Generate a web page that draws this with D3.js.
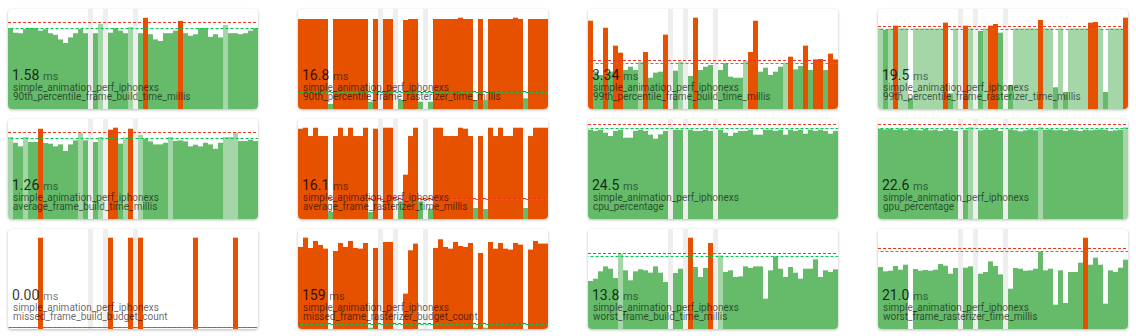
<!DOCTYPE html>
<html><head><meta charset="utf-8">
<script src="https://cdn.jsdelivr.net/npm/d3@7"></script>
<style>
html,body{margin:0;padding:0;background:#fff;}
#chart{position:relative;width:1136px;height:336px;overflow:hidden;}
.card{position:absolute;width:250px;height:100px;border-radius:4px;overflow:hidden;background:#fff;box-shadow:0 1px 3px rgba(0,0,0,0.28);}
.card svg{display:block;}
text{font-family:Roboto,"Noto Sans",sans-serif;}
</style></head><body><div id="chart"></div>
<script>
// ---------------- data ----------------
const benchmark = "simple_animation_perf_iphonexs";
const unit = "ms";
const metrics = [
  "90th_percentile_frame_build_time_millis",
  "90th_percentile_frame_rasterizer_time_millis",
  "99th_percentile_frame_build_time_millis",
  "99th_percentile_frame_rasterizer_time_millis",
  "average_frame_build_time_millis",
  "average_frame_rasterizer_time_millis",
  "cpu_percentage",
  "gpu_percentage",
  "missed_frame_build_budget_count",
  "missed_frame_rasterizer_budget_count",
  "worst_frame_build_time_millis",
  "worst_frame_rasterizer_time_millis"
];
const baselines       = [1.58, 16.8, 3.34, 19.5, 1.26, 16.1, 24.5, 22.6, 0, 159, 13.8, 21.0];
const upperThresholds = [1.68, 17.4, 3.56, 20.3, 1.353, 16.3, 25.4, 23.4, 0, 169, 14.3, 21.9];
const yMaxes          = [1.94, 97.1, 7.26, 24.47, 1.556, 79.3, 26.83, 24.75, 1.095, 2980, 18.9, 27.04];

const v1 = [1.57,1.48,1.47,1.55,1.57,1.57,1.52,1.55,1.47,1.44,1.35,1.28,1.39,1.47,1.55,1.47,null,1.47,1.65,null,
            1.48,1.57,1.52,1.47,1.59,null,1.47,1.77,1.45,1.35,1.32,1.47,1.47,1.52,1.71,1.47,1.42,1.45,1.57,1.57,
            1.40,1.45,1.39,1.63,1.47,1.47,1.45,1.47,1.52,1.57];
const v2 = [87.4,87.4,87.4,87.4,87.4,87.4,4.9,87.4,87.4,87.4,87.4,87.4,87.4,87.4,7.1,87.4,null,87.4,87.4,null,
            8.7,86.4,87.4,87.4,7.1,null,7.1,87.4,87.4,87.4,87.4,87.4,88.7,87.4,87.4,8.7,87.4,8.7,87.4,87.4,
            87.4,87.4,87.4,88.7,87.4,10.4,87.4,87.4,87.4,87.4];
const v3 = [6.41,2.71,2.47,5.90,2.71,4.60,4.09,2.83,3.07,2.83,3.44,4.14,2.27,2.64,2.71,5.40,null,2.78,3.44,null,
            2.40,6.63,2.83,3.07,3.19,null,2.83,3.32,2.35,2.27,2.27,3.50,4.14,6.41,2.71,3.00,2.47,2.71,3.07,3.36,
            3.80,2.88,3.12,4.60,2.83,3.60,3.63,2.83,4.02,3.60];
const v4 = [19.74,19.33,19.70,20.40,19.72,19.75,2.62,19.74,19.70,19.72,19.74,19.70,19.74,21.13,3.84,19.72,null,20.40,19.74,null,
            19.09,19.72,20.40,20.80,18.68,null,5.87,19.74,19.70,19.72,19.74,19.70,21.78,19.74,19.72,5.31,19.74,4.16,19.70,19.74,
            19.72,19.74,21.13,21.29,19.72,4.16,19.74,19.70,19.74,22.35];
const v5 = [1.276,1.187,1.130,1.276,1.198,1.198,1.405,1.182,1.172,1.130,1.161,1.058,1.161,1.224,1.343,1.224,null,1.198,1.276,null,
            1.390,1.421,1.172,1.270,1.405,null,1.312,1.250,1.208,1.161,1.161,1.187,1.276,1.213,1.224,1.208,1.130,1.156,1.130,1.187,
            1.161,1.094,1.187,1.276,1.276,1.343,1.213,1.213,1.234,1.213];
const v6 = [71.6,72.4,65.8,72.4,65.8,65.8,5.5,65.8,72.4,65.8,72.4,65.8,65.8,72.4,5.5,71.6,null,72.4,72.4,null,
            14.0,35.2,65.8,72.4,14.0,null,8.2,72.4,72.4,65.8,65.8,65.8,72.4,71.6,65.8,8.7,65.8,7.9,72.4,65.8,
            72.4,65.8,65.8,72.4,72.4,8.7,65.8,72.4,72.4,72.4];
const v7 = [23.97,23.61,23.97,23.16,22.27,23.61,23.97,21.82,21.82,23.61,23.97,23.61,22.63,21.55,22.72,23.61,null,23.97,23.97,null,
            23.97,23.61,23.61,23.97,23.61,null,23.97,23.16,22.27,23.16,23.61,23.61,23.97,22.63,22.63,23.97,23.97,23.61,23.97,22.63,
            23.97,23.61,23.97,22.89,23.97,23.61,23.97,23.61,22.89,23.61];
const v8 = [22.36,22.19,22.36,22.11,22.36,21.95,22.36,22.11,21.95,22.36,21.95,22.11,21.78,22.19,22.11,21.78,null,22.11,22.70,null,
            21.95,22.19,22.11,22.36,21.78,null,22.19,21.95,21.70,21.95,22.19,21.95,22.70,22.11,22.19,21.95,22.11,21.78,22.19,21.95,
            21.78,22.11,21.95,22.11,22.19,22.11,21.78,21.95,22.11,22.70];
const v9 = [0,0,0,0,0,0,1,0,0,0,0,0,0,0,0,0,null,0,0,null,
            1,0,0,0,1,null,1,0,0,0,0,0,0,0,0,0,0,1,0,0,
            0,0,0,0,0,1,0,0,0,0];
const v10 = [2445,2723,2415,2624,2505,2395,0,2326,2564,2445,2624,2415,2395,2564,40,2415,null,2594,2594,null,
             0,1054,2346,2545,0,null,0,2415,2674,2445,2395,2594,2475,2445,2564,40,2266,40,2594,2395,
             2564,2395,2366,2564,2515,0,2366,2624,2545,2545];
const v11 = [9.07,9.51,10.90,11.84,11.40,9.64,14.24,11.09,9.20,10.90,11.28,11.09,10.65,11.84,10.65,8.88,null,10.58,11.40,null,
             17.26,11.72,9.83,11.53,16.25,null,13.92,10.77,11.09,9.83,9.95,11.84,11.53,11.84,11.84,5.73,11.09,13.73,11.40,9.83,
             11.72,10.65,9.51,11.40,11.40,13.17,9.83,11.09,10.77,11.28];
const v12 = [16.76,15.59,15.77,17.03,16.04,17.39,0,16.22,15.77,15.95,15.77,16.04,17.57,17.12,14.96,16.49,null,16.58,16.94,null,
             14.96,15.41,18.29,17.03,14.78,null,10.90,16.49,16.31,15.77,15.86,16.31,20.95,15.86,16.31,6.58,15.86,7.03,15.41,15.41,
             17.93,24.69,17.39,19.28,17.39,6.85,15.86,15.41,16.58,18.74];
const seriesValues = [v1,v2,v3,v4,v5,v6,v7,v8,v9,v10,v11,v12];

// ---------------- drawing ----------------
const COLORS = {below:"#66bb6a", between:"#a5d6a7", regress:"#e65100", gap:"#eeeeee",
                upper:"#f2361f", base:"#00c853"};
const W = 250, H = 100, COLS = 4, GX = 290, GY = 110, X0 = 8, Y0 = 9;
const fmt = d3.format(".3r");
const root = d3.select("#chart");

seriesValues.forEach((vals, p) => {
  const col = p % COLS, row = Math.floor(p / COLS);
  const card = root.append("div").attr("class","card")
    .style("left",(X0 + col*GX)+"px").style("top",(Y0 + row*GY)+"px");
  const svg = card.append("svg").attr("width",W).attr("height",H);

  const x = d3.scaleBand().domain(d3.range(vals.length)).range([0,W]).padding(0);
  const y = d3.scaleLinear().domain([0, yMaxes[p]]).range([H, 0]);
  const base = baselines[p], up = upperThresholds[p];
  const colorOf = v => v > up ? COLORS.regress : (v > base ? COLORS.between : COLORS.below);

  svg.append("g").selectAll("rect").data(vals).join("rect")
    .attr("x",(d,i)=>x(i)).attr("width",x.bandwidth())
    .attr("y",d => d===null ? 0 : y(d))
    .attr("height",d => d===null ? H : H - y(d))
    .attr("fill",d => d===null ? COLORS.gap : colorOf(d));

  const ly = v => Math.min(Math.round(y(v)) + 0.5, H - 1.5);
  svg.append("line").attr("x1",0).attr("x2",W).attr("y1",ly(up)).attr("y2",ly(up))
    .attr("stroke",COLORS.upper).attr("stroke-width",1).attr("stroke-dasharray","3,2");
  svg.append("line").attr("x1",0).attr("x2",W).attr("y1",ly(base)).attr("y2",ly(base))
    .attr("stroke",COLORS.base).attr("stroke-width",1).attr("stroke-dasharray","3,2")
    .attr("stroke-dashoffset",2.5);

  const t = svg.append("text").attr("x",4).attr("y",71);
  t.append("tspan").text(fmt(base)).attr("font-size",14).attr("fill","rgba(0,0,0,0.8)");
  t.append("tspan").text("\u00a0" + unit).attr("font-size",11).attr("dx",1).attr("fill","rgba(0,0,0,0.55)");
  svg.append("text").attr("x",5).attr("y",81.5).attr("font-size",10)
    .attr("fill","rgba(0,0,0,0.62)").text(benchmark);
  svg.append("text").attr("x",5).attr("y",91).attr("font-size",10)
    .attr("fill","rgba(0,0,0,0.62)").text(metrics[p]);
});
</script>
</body></html>
